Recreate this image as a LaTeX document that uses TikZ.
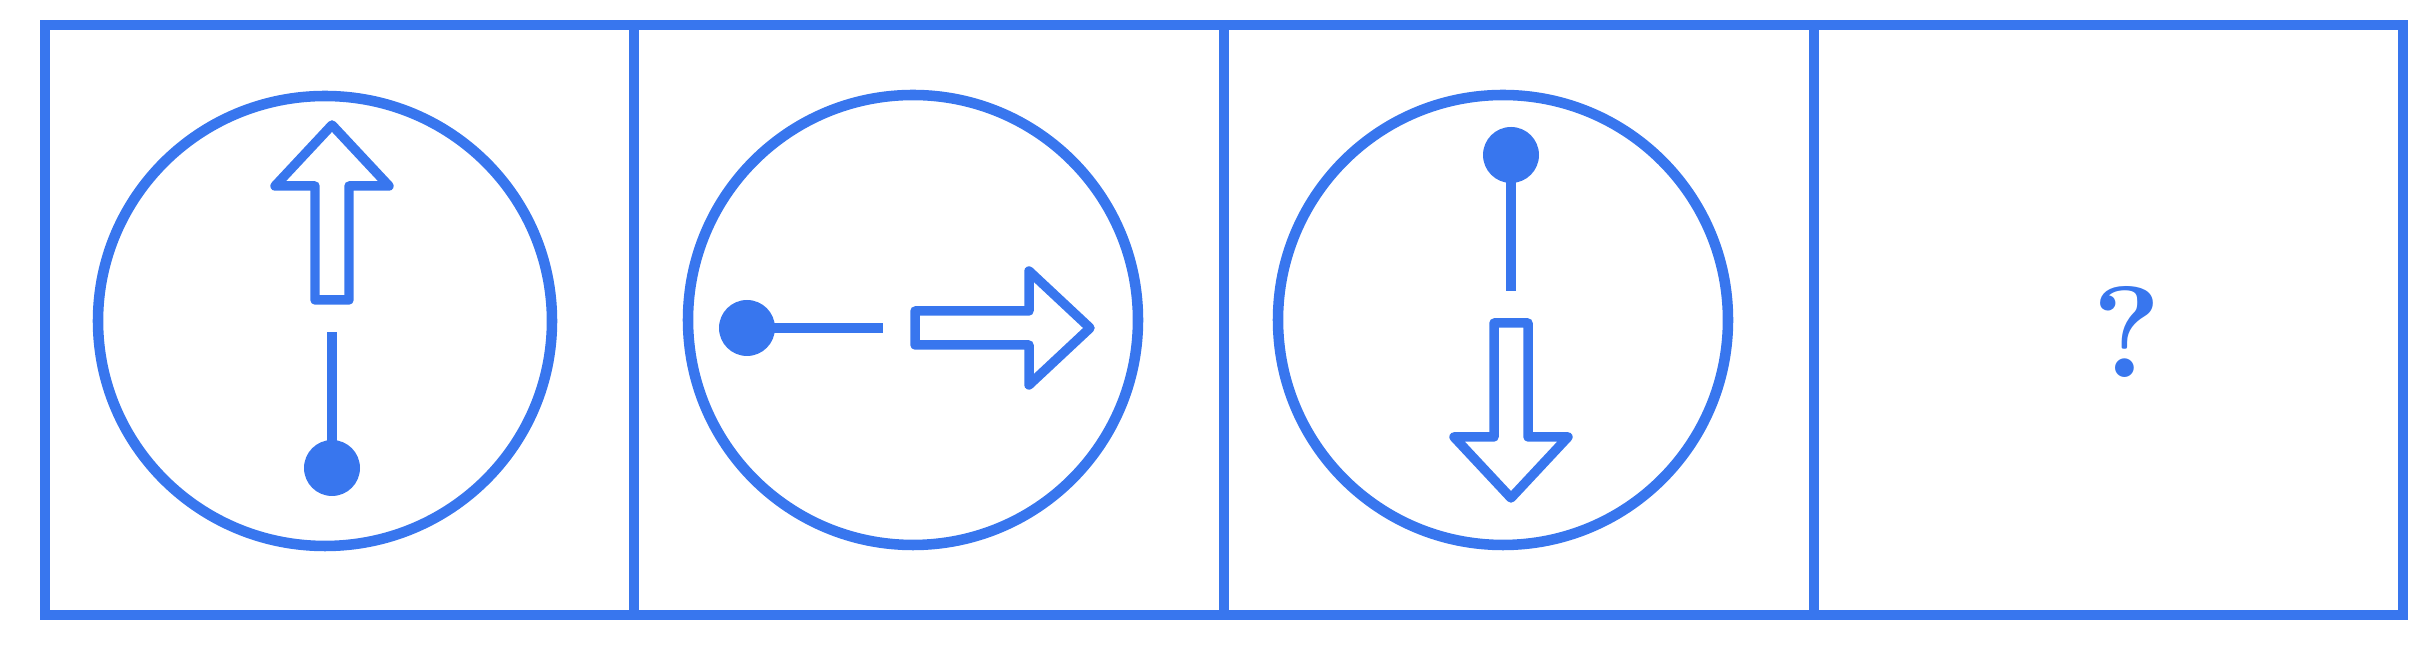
\documentclass[tikz,border=0pt]{standalone}
\usepackage{tikz}
\definecolor{figblue}{RGB}{56,118,238}
\tikzset{
  frame/.style={draw=figblue, line width=3pt},
  ring/.style={draw=figblue, line width=3pt},
  pointer/.pic={
    \fill[figblue] (0,0) circle (28);
    \draw[figblue, line width=2.7pt] (0,0) -- (136,0);
    \draw[figblue, line width=2.7pt, line join=round]
      (168,-17) -- (282,-17) -- (282,-57) -- (343,0) -- (282,57) -- (282,17) -- (168,17) -- cycle;
  }
}

\begin{document}
\begin{tikzpicture}[x=0.1mm, y=-0.1mm]
    \useasboundingbox (0,0) rectangle (2430,647);

    \draw[frame] (45,25) rectangle (2403,615);
    \foreach \xdiv in {634,1224,1814}
        \draw[frame] (\xdiv,25) -- (\xdiv,615);

    \draw[ring] (325,321) circle [x radius=227, y radius=225];
    \draw[ring] (913,320) circle [x radius=225, y radius=225];
    \draw[ring] (1503,320) circle [x radius=225, y radius=225];

    \pic (up) [rotate=90] at (332,468) {pointer};
    \pic (right) at (747,328) {pointer};
    \pic (down) [rotate=-90] at (1511,155) {pointer};

    \node[text=figblue, font=\bfseries\fontsize{37}{40}\selectfont, inner sep=0pt] (query) at (2127,332) {?};
\end{tikzpicture}
\end{document}
